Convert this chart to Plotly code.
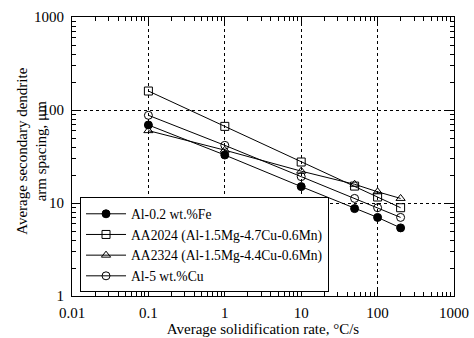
import plotly.graph_objects as go

rate = [0.1, 1, 10, 50, 100, 200]
fe = [69, 32.8, 15.0, 8.7, 7.0, 5.4]
aa2024 = [160, 66.7, 27.6, 15.2, 11.6, 8.9]
aa2324 = [60, 37, 22, 15.9, 13.2, 11.2]
cu5 = [87.7, 41.7, 19.2, 11.2, 8.9, 7.0]

names = ["Al-0.2 wt.%Fe", "AA2024 (Al-1.5Mg-4.7Cu-0.6Mn)",
         "AA2324 (Al-1.5Mg-4.4Cu-0.6Mn)", "Al-5 wt.%Cu"]
symbols = ["circle", "square-open", "triangle-up-open", "circle-open"]
series = [fe, aa2024, aa2324, cu5]

xtickvals = [0.01, 0.1, 1, 10, 100, 1000]
xticktext = ["0.01", "0.1", "1", "10", "100", "1000"]
ytickvals = [1, 10, 100, 1000]
yticktext = ["1", "10", "100", "1000"]

def minors(decades):
    return [m * d for d in decades for m in range(2, 10)]

font = "Liberation Serif"
fig = go.Figure()
for n, s, y in zip(names, symbols, series):
    fig.add_trace(go.Scatter(
        x=rate, y=y, name=n, mode="lines+markers",
        line=dict(color="black", width=1),
        marker=dict(symbol=s, size=8, color="black",
                    line=dict(color="black", width=1)),
    ))

axis_common = dict(
    type="log", showline=True, linecolor="black", linewidth=1.2, mirror="allticks",
    ticks="inside", ticklen=7, tickcolor="black", automargin=False,
    showgrid=True, gridcolor="black", gridwidth=1, griddash="dot",
    zeroline=False,
    tickfont=dict(family=font, size=15, color="black"),
)

fig.update_xaxes(range=[-2, 3], tickmode="array", tickvals=xtickvals, ticktext=xticktext,
                 ticklabelstandoff=3,
                 minor=dict(tickmode="array", tickvals=minors(xtickvals[:-1]),
                            ticks="inside", ticklen=4, tickcolor="black", showgrid=False),
                 title=dict(text="Average solidification rate, °C/s",
                            font=dict(family=font, size=15, color="black"), standoff=1),
                 **axis_common)
fig.update_yaxes(range=[0, 3], tickmode="array", tickvals=ytickvals, ticktext=yticktext,
                 ticklabelstandoff=4,
                 minor=dict(tickmode="array", tickvals=minors(ytickvals[:-1]),
                            ticks="inside", ticklen=4, tickcolor="black", showgrid=False),
                 **axis_common)

fig.add_annotation(
    text="Average secondary dendrite<br>arm spacing, μm",
    textangle=-90, xref="paper", yref="paper", x=-0.105, y=0.52,
    xanchor="center", yanchor="middle", showarrow=False,
    font=dict(family=font, size=15, color="black"),
)

fig.update_layout(
    width=474, height=338,
    margin=dict(l=72, r=20, t=17, b=42),
    paper_bgcolor="white", plot_bgcolor="white",
    font=dict(family=font, color="black"),
    legend=dict(x=0.021, y=0.183, xanchor="left", yanchor="middle",
                bordercolor="black", borderwidth=1, bgcolor="white",
                font=dict(family=font, size=13.6, color="black"),
                tracegroupgap=0, itemwidth=40),
    showlegend=True,
)

fig.write_html("out.html")
